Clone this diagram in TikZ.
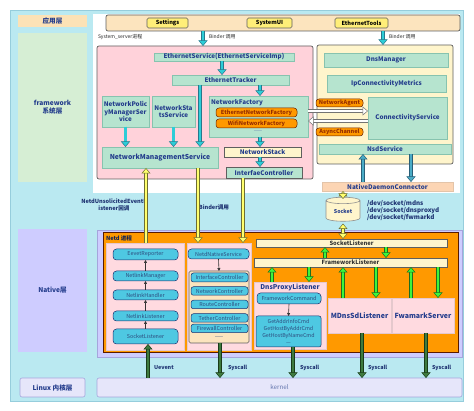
\documentclass[tikz,border=0pt]{standalone}
\usepackage{fontspec}
\setmainfont{Noto Sans CJK SC}
\usetikzlibrary{arrows.meta,shapes.geometric}
\definecolor{bgc}{RGB}{186,233,241}
\definecolor{bgline}{RGB}{150,205,220}
\definecolor{peach}{RGB}{252,226,182}
\definecolor{paleg}{RGB}{214,238,212}
\definecolor{lav}{RGB}{206,204,255}
\definecolor{lavlight}{RGB}{230,230,250}
\definecolor{lavline}{RGB}{165,165,220}
\definecolor{tan}{RGB}{252,228,190}
\definecolor{yel}{RGB}{255,238,120}
\definecolor{pinkb}{RGB}{255,210,218}
\definecolor{pinkc}{RGB}{255,218,224}
\definecolor{lyel}{RGB}{255,245,204}
\definecolor{mint}{RGB}{182,228,207}
\definecolor{mintline}{RGB}{135,195,175}
\definecolor{orng}{RGB}{255,153,0}
\definecolor{orngtxt}{RGB}{150,45,0}
\definecolor{cyanp}{RGB}{78,200,226}
\definecolor{navy}{RGB}{35,60,140}
\definecolor{cyantxt}{RGB}{45,75,125}
\definecolor{darkline}{RGB}{95,95,95}
\definecolor{fcyan}{RGB}{45,205,215}
\definecolor{fcyanl}{RGB}{40,120,140}
\definecolor{fteal}{RGB}{75,172,198}
\definecolor{ftealL}{RGB}{40,95,120}
\definecolor{fyel}{RGB}{255,255,110}
\definecolor{fyelL}{RGB}{110,110,50}
\definecolor{fgreen}{RGB}{60,245,60}
\definecolor{fgreenL}{RGB}{30,110,30}
\definecolor{dgreen}{RGB}{62,122,62}
\definecolor{dgreenL}{RGB}{25,60,25}
\definecolor{peachb}{RGB}{252,213,180}
\newcommand\fsz[2]{\fontsize{#1}{#2}\selectfont}
\begin{document}
\begin{tikzpicture}[x=1pt,y=-1pt,
  every node/.style={inner sep=0pt, outer sep=0pt},
  layerbox/.style={fill=#1, draw=none, align=center, text=navy, font=\fsz{6.6}{8}\bfseries},
  gbox/.style={fill=mint, draw=mintline, line width=0.6pt, align=center, text=navy, font=\fsz{6.3}{7.4}\bfseries},
  opill/.style={fill=orng, draw=orngtxt!70!black, line width=0.5pt, rounded corners=3pt, text=orngtxt, font=\fsz{5.6}{6.5}\bfseries},
  cpill/.style={fill=cyanp, draw=navy!80!black, line width=0.5pt, rounded corners=3.5pt, text=cyantxt, font=\fsz{5.4}{6.3}},
  ypill/.style={fill=yel, draw=darkline, line width=0.6pt, rounded corners=1.5pt, text=black, font=\fsz{5.6}{6.5}\bfseries},
  lybar/.style={fill=lyel, draw=darkline, line width=0.6pt, text=black!80, font=\fsz{5.8}{6.5}\bfseries},
  pinkbox/.style={fill=pinkc, draw=pinkc!80!gray, line width=0.4pt},
  small/.style={font=\fsz{5}{6}, text=black!85},
  fa/.style 2 args={draw=#1, line width=2.8pt,
     -{Triangle[length=5.5pt,width=9pt,line width=0.5pt,color=#2,fill=#1]},
     preaction={draw=#2, line width=3.8pt, -, shorten >=3.2pt}},
  fatwo/.style 2 args={draw=#1, line width=2.8pt,
     {Triangle[length=5.5pt,width=9pt,line width=0.5pt,color=#2,fill=#1]}-{Triangle[length=5.5pt,width=9pt,line width=0.5pt,color=#2,fill=#1]},
     preaction={draw=#2, line width=3.8pt, -, shorten >=3.2pt, shorten <=3.2pt}},
  thinar/.style={draw=black!80, line width=0.6pt, -{Triangle[length=3pt,width=3pt]}}
]
\useasboundingbox (0,0) rectangle (474,411);
% backgrounds
\fill[bgc, draw=bgline, line width=0.6pt] (10,10) rectangle (463,401);
\fill[white] (93,14) rectangle (460,193);

% layer labels
\node[layerbox=peach, minimum width=69pt, minimum height=12pt] (appL) at (52.5,21) {应用层};
\node[layerbox=paleg, minimum width=69pt, minimum height=149pt] (fwL) at (52.5,107.5) {framework\\系统层};
\node[layerbox=lav, minimum width=69pt, minimum height=123pt] (natL) at (52.5,290.5) {Native层};
\node[layerbox=lavlight, draw=lavline, line width=0.6pt, rounded corners=2pt, minimum width=65pt, minimum height=19pt] (linL) at (52.5,387.5) {Linux 内核层};

% application bar
\node[fill=tan, draw=darkline, line width=0.7pt, rounded corners=2pt, minimum width=354pt, minimum height=16pt] (apps) at (283,23) {};
\node[ypill, minimum width=41pt, minimum height=10pt] (settings) at (167.5,23) {Settings};
\node[ypill, minimum width=45pt, minimum height=10pt] (sysui) at (269.5,23) {SystemUI};
\node[ypill, minimum width=53pt, minimum height=10pt] (ethtools) at (361.5,23) {EthernetTools};

\node[small, anchor=west] (ssl) at (98,37) {System\_server进程};
\node[small, anchor=west] (b1) at (209,37) {Binder 调用};
\node[small, anchor=west] (b2) at (389,37) {Binder 调用};

% system_server boxes
\node[fill=pinkb, draw=darkline, line width=0.7pt, rounded corners=2pt, minimum width=216pt, minimum height=133pt] (sysbox) at (205,112.5) {};
\node[fill=lyel, draw=darkline, line width=0.7pt, rounded corners=2pt, minimum width=136pt, minimum height=119pt] (rbox) at (385,104.5) {};

\node[gbox, minimum width=140pt, minimum height=8pt] (ethSvc) at (224,57) {EthernetService(EthernetServiceImp)};
\node[gbox, minimum width=117pt, minimum height=10pt] (ethTr) at (230.5,80) {EthernetTracker};
\node[gbox, minimum width=47pt, minimum height=31pt] (npms) at (125.5,111.5) {NetworkPolic\\yManagerSer\\vice};
\node[gbox, minimum width=43pt, minimum height=31pt] (nss) at (173.5,111.5) {NetworkSta\\tsService};
\node[gbox, minimum width=99pt, minimum height=41pt] (nf) at (258.5,116.5) {};
\node[text=navy, font=\fsz{6.3}{7}\bfseries, anchor=west] (nfl) at (211,103) {NetworkFactory};
\node[opill, minimum width=81pt, minimum height=9pt] (enf) at (256.5,112.5) {EthernetNetworkFactory};
\node[opill, minimum width=81pt, minimum height=9pt] (wnf) at (256.5,123.5) {WifiNetworkFactory};
\node[text=navy!70, font=\fsz{5}{6}] (nfd) at (258,132) {——};
\node[gbox, font=\fsz{6.8}{8}\bfseries, minimum width=116pt, minimum height=21pt] (nms) at (160,157.5) {NetworkManagementService};
\node[lybar, text=navy, minimum width=77pt, minimum height=10pt, font=\fsz{6.3}{7}\bfseries] (nstack) at (262.5,152) {NetworkStack};
\node[gbox, draw=darkline, minimum width=76pt, minimum height=11pt] (ictl) at (264,172.5) {InterfaeController};

% right box
\node[gbox, minimum width=124pt, minimum height=14pt] (dns) at (386,60) {DnsManager};
\node[gbox, minimum width=119pt, minimum height=17pt] (ipcm) at (386.5,83.5) {IpConnectivityMetrics};
\node[gbox, minimum width=79pt, minimum height=42pt] (cs) at (407.5,118) {ConnectivityService};
\node[opill, minimum width=47pt, minimum height=8pt] (nagent) at (339.5,103) {NetworkAgent};
\node[opill, minimum width=47pt, minimum height=8pt] (async) at (339.5,132) {AsyncChannel};
\node[gbox, minimum width=132pt, minimum height=10pt] (nsd) at (385,149) {NsdService};
\node[fill=peachb, draw=peachb!80!gray, line width=0.5pt, minimum width=131pt, minimum height=9pt, text=navy, font=\fsz{6.3}{7}\bfseries] (ndc) at (387.5,186.5) {NativeDaemonConnector};

% socket
\node[cylinder, shape border rotate=90, aspect=0.35, fill=lyel, draw=darkline!70, line width=0.6pt, minimum width=34pt, minimum height=24pt, text=navy, font=\fsz{5.3}{6}\bfseries] (sock) at (343,211) {Socket};
\coordinate (sockTop) at (343,199);
\coordinate (sockBot) at (343,223.5);
\node[anchor=west, align=left, text=navy!80!black, font=\fsz{6.2}{7.4}\bfseries] (paths) at (367,210.5) {/dev/socket/mdns\\/dev/socket/dnsproxyd\\/dev/socket/fwmarkd};

\node[align=center, text=navy!80!black, font=\fsz{5.6}{6.6}\bfseries] (unsol) at (114,205) {NetdUnsolicitedEventL\\istener回调};
\node[text=navy!80!black, font=\fsz{5.6}{6.6}\bfseries] (b3) at (214,207) {Binder调用};

% native
\node[fill=lav, draw=lavline, line width=0.6pt, minimum width=365pt, minimum height=127pt] (lavbox) at (279.5,293.5) {};
\node[fill=orng, draw=orngtxt!60!black, line width=0.7pt, minimum width=355pt, minimum height=120pt] (netd) at (280.5,292) {};
\node[anchor=west, text=navy!60!black, font=\fsz{5.6}{6.5}\bfseries] (netdl) at (106,238.5) {Netd 进程};
\node[pinkbox, minimum width=78pt, minimum height=107pt] (leftcol) at (145,296.5) {};
\node[pinkbox, minimum width=64pt, minimum height=107pt] (midcol) at (219,296.5) {};

\node[cpill, minimum width=65pt, minimum height=11pt] (er) at (145.5,254.5) {EevetReporter};
\node[cpill, minimum width=65pt, minimum height=10pt] (nm) at (145.5,276) {NetlinkManager};
\node[cpill, minimum width=65pt, minimum height=10pt] (nh) at (145.5,295) {NetlinkHandler};
\node[cpill, minimum width=65pt, minimum height=10pt] (nl) at (145.5,316) {NetlinkListener};
\node[cpill, minimum width=65pt, minimum height=15pt] (sl) at (145.5,336.5) {SocketListener};

\node[cpill, minimum width=61pt, minimum height=10pt] (nns) at (218.5,254) {NetdNativeService};
\node[fill=tan, draw=darkline, line width=0.6pt, rounded corners=1.5pt, minimum width=60pt, minimum height=72pt] (tanbox) at (219,307) {};
\node[cpill, rounded corners=2.5pt, minimum width=57pt, minimum height=9pt] (ic) at (219.5,277.5) {InterfaceController};
\node[cpill, rounded corners=2.5pt, minimum width=57pt, minimum height=8.5pt] (nc) at (219.5,291) {NetworkController};
\node[cpill, rounded corners=2.5pt, minimum width=57pt, minimum height=8.5pt] (rc) at (219.5,304.5) {RouteController};
\node[cpill, rounded corners=2.5pt, minimum width=57pt, minimum height=8.5pt] (tc) at (219.5,318) {TetherController};
\node[cpill, rounded corners=2.5pt, minimum width=57pt, minimum height=8.5pt] (fc) at (219.5,328.5) {FirewallController};
\node[text=cyantxt, font=\fsz{5}{6}] (mdd) at (219,338) {——};

\node[lybar, minimum width=191pt, minimum height=8pt] (sockL) at (351.5,243) {SocketListener};
\node[lybar, minimum width=193pt, minimum height=9pt] (fwkL) at (350.5,262.5) {FrameworkListener};

\node[pinkbox, minimum width=72pt, minimum height=67pt] (dnsp) at (290,315.5) {};
\node[text=navy, font=\fsz{6.6}{7.5}\bfseries] (dnspl) at (290,287.5) {DnsProxyListener};
\node[cpill, minimum width=64pt, minimum height=11pt] (fcmd) at (289,298.5) {FrameworkCommand};
\node[cpill, rounded corners=2pt, minimum width=65pt, minimum height=31pt, align=center, font=\fsz{5.3}{7}] (cmds) at (288.5,331.5) {GetAddrInfoCmd\\GetHostByAddrCmd\\GetHostByNameCmd\\—};
\node[pinkbox, minimum width=63pt, minimum height=35pt, text=navy, font=\fsz{7}{8}\bfseries] (mdns) at (359.5,315.5) {MDnsSdListener};
\node[pinkbox, minimum width=62pt, minimum height=35pt, text=navy, font=\fsz{7}{8}\bfseries] (fwm) at (423,315.5) {FwamarkServer};

\node[fill=lavlight, draw=lavline, line width=0.6pt, rounded corners=2pt, minimum width=365pt, minimum height=19pt, text=navy!70, font=\fsz{6.2}{7}] (kernel) at (279.5,387.5) {kernel};

% column coordinates
\foreach \n/\x in {c203/203,c383/383,c222/222,c200/200,c260/260,c363/363,c411/411,c146/146,c198/198,c243/243,c325/325,c386/386,c272/272,c309/309,c343/343,c376/376,c411b/411,c438/438,c148/148,c220/220,c293/293,c362/362,c426/426}
  \coordinate (\n) at (\x,0);
\coordinate (r111) at (0,111);
\coordinate (r121) at (0,121);

% framework arrows
\draw[fa={fcyan}{fcyanl}] (apps.south -| c203) -- (sysbox.north -| c203);
\draw[fa={fcyan}{fcyanl}] (apps.south -| c383) -- (rbox.north -| c383);
\draw[fa={fcyan}{fcyanl}] (ethSvc.south -| c222) -- (ethTr.north -| c222);
\draw[fa={fcyan}{fcyanl}] (ethTr.south -| c200) -- (nms.north -| c200);
\draw[fa={fcyan}{fcyanl}] (ethTr.south -| c260) -- (nf.north -| c260);
\draw[fa={fcyan}{fcyanl}] (npms.south) -- (npms.south |- nms.north);
\draw[fa={fcyan}{fcyanl}] (nss.south) -- (nss.south |- nms.north);
\draw[fa={fcyan}{fcyanl}] (nf.south -| c260) -- (nstack.north -| c260);
\draw[fa={fcyan}{fcyanl}] (nstack.south -| c260) -- (ictl.north -| c260);
\draw[fa={white}{black!55}] (nf.east |- r111) -- (cs.west |- r111);
\draw[fa={white}{black!55}] (cs.west |- r121) -- (nf.east |- r121);
\draw[fa={fteal}{ftealL}] (ndc.north -| c363) -- (nsd.south -| c363);
\draw[fa={fteal}{ftealL}] (nsd.south -| c411) -- (ndc.north -| c411);

% yellow arrows
\draw[fatwo={fyel}{fyelL}] (ndc.south -| sockTop) -- (sockTop);
\draw[fatwo={fyel}{fyelL}] (sockBot) -- (sockL.north -| sockBot);
\draw[fa={fyel}{fyelL}] (leftcol.north -| c146) -- (nms.south -| c146);
\draw[fa={fyel}{fyelL}] (nms.south -| c198) -- (midcol.north -| c198);
\draw[fa={fyel}{fyelL}] (ictl.south -| c243) -- (midcol.north -| c243);

% green arrows
\draw[fa={fgreen}{fgreenL}] (fwkL.north -| c325) -- (sockL.south -| c325);
\draw[fa={fgreen}{fgreenL}] (sockL.south -| c386) -- (fwkL.north -| c386);
\draw[fa={fgreen}{fgreenL}] (dnsp.north -| c272) -- (fwkL.south -| c272);
\draw[fa={fgreen}{fgreenL}] (fwkL.south -| c309) -- (dnsp.north -| c309);
\draw[fa={fgreen}{fgreenL}] (mdns.north -| c343) -- (fwkL.south -| c343);
\draw[fa={fgreen}{fgreenL}] (fwkL.south -| c376) -- (mdns.north -| c376);
\draw[fa={fgreen}{fgreenL}] (fwm.north -| c411b) -- (fwkL.south -| c411b);
\draw[fa={fgreen}{fgreenL}] (fwkL.south -| c438) -- (fwm.north -| c438);

% thin black arrows
\draw[thinar] (nm.north) -- (er.south);
\draw[thinar] (nh.north) -- (nm.south);
\draw[thinar] (nl.north) -- (nh.south);
\draw[thinar] (sl.north) -- (nl.south);
\draw[thinar] (nns.south) -- (tanbox.north);
\draw[thinar] (fcmd.south) -- (cmds.north);

% kernel arrows
\draw[fa={dgreen}{dgreenL}] (kernel.north -| c148) -- (sl.south -| c148);
\draw[fa={dgreen}{dgreenL}] (tanbox.south -| c220) -- (kernel.north -| c220);
\draw[fa={dgreen}{dgreenL}] (cmds.south -| c293) -- (kernel.north -| c293);
\draw[fa={dgreen}{dgreenL}] (mdns.south -| c362) -- (kernel.north -| c362);
\draw[fa={dgreen}{dgreenL}] (fwm.south -| c426) -- (kernel.north -| c426);
\node[anchor=west, text=navy!80!black, font=\fsz{5.4}{6}\bfseries] (ue) at (154,368) {Uevent};
\node[anchor=west, text=navy!80!black, font=\fsz{5.4}{6}\bfseries] (s1) at (228,368) {Syscall};
\node[anchor=west, text=navy!80!black, font=\fsz{5.4}{6}\bfseries] (s2) at (300,368) {Syscall};
\node[anchor=west, text=navy!80!black, font=\fsz{5.4}{6}\bfseries] (s3) at (368,368) {Syscall};
\node[anchor=west, text=navy!80!black, font=\fsz{5.4}{6}\bfseries] (s4) at (432,368) {Syscall};
\end{tikzpicture}
\end{document}
